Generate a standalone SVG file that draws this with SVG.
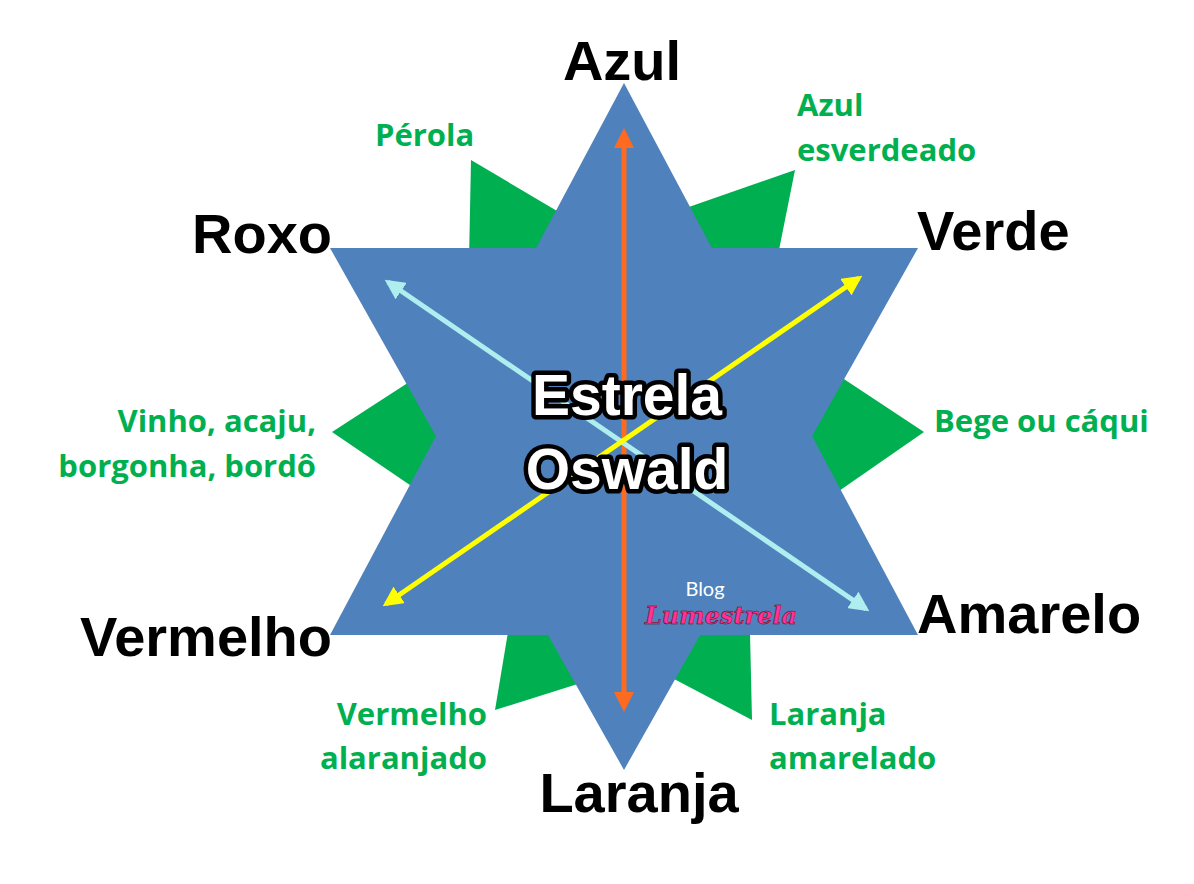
<svg xmlns="http://www.w3.org/2000/svg" width="1194" height="884" viewBox="0 0 1194 884">
<style>
.g{fill:#00b050}
.big{font-family:"Liberation Sans",Arial,sans-serif;font-weight:bold;font-size:56px;fill:#000}
.lbl{font-family:"Open Sans","Liberation Sans",sans-serif;font-weight:bold;font-size:31px;fill:#00b050}
.ttl{font-family:"Liberation Sans",Arial,sans-serif;font-weight:bold;font-size:57px;fill:#fff;stroke:#000;stroke-width:9;paint-order:stroke;stroke-linejoin:round}
</style>
<defs>
<marker id="mo" viewBox="0 0 10 10" refX="8" refY="5" markerWidth="4" markerHeight="4" orient="auto-start-reverse"><path d="M0,0L10,5L0,10z" fill="#ff6a21"/></marker>
<marker id="mc" viewBox="0 0 10 10" refX="8" refY="5" markerWidth="4" markerHeight="4" orient="auto-start-reverse"><path d="M0,0L10,5L0,10z" fill="#aeeeee"/></marker>
<marker id="my" viewBox="0 0 10 10" refX="8" refY="5" markerWidth="4" markerHeight="4" orient="auto-start-reverse"><path d="M0,0L10,5L0,10z" fill="#ffff00"/></marker>
</defs>
<rect width="1194" height="884" fill="#fff"/>
<g id="spikes">
<polygon class="g" points="471,160 640,260 469,260"/>
<polygon class="g" points="795,170 600,238 775,270"/>
<polygon class="g" points="332,432 474,340 476,530"/>
<polygon class="g" points="924,432 800,350 790,525"/>
<polygon class="g" points="495,710 515,590 660,658"/>
<polygon class="g" points="752,720 749,590 600,640"/>
</g>
<g id="star" fill="#4f81bd">
<polygon points="624,83 918,635 330,635"/>
<polygon points="624,770 330,248 918,248"/>
</g>
<g id="connectors" stroke-width="5" fill="none">
<line x1="624" y1="132" x2="624" y2="708" stroke="#ff6a21" marker-start="url(#mo)" marker-end="url(#mo)"/>
<line x1="388" y1="282" x2="866" y2="609" stroke="#aeeeee" marker-start="url(#mc)" marker-end="url(#mc)"/>
<line x1="859" y1="278" x2="386" y2="604" stroke="#ffff00" marker-start="url(#my)" marker-end="url(#my)"/>
</g>
<g id="title"><text class="ttl" x="627" y="415" text-anchor="middle">Estrela</text><text class="ttl" x="627" y="489" text-anchor="middle">Oswald</text></g>
<g id="main">
<text class="big" x="622" y="80" text-anchor="middle">Azul</text>
<text class="big" x="332" y="253" text-anchor="end">Roxo</text>
<text class="big" x="917" y="250">Verde</text>
<text class="big" x="332" y="656" text-anchor="end">Vermelho</text>
<text class="big" x="917" y="633">Amarelo</text>
<text class="big" x="639" y="812" text-anchor="middle">Laranja</text>
</g>
<g id="labels">
<text class="lbl" x="375" y="146">Pérola</text>
<text class="lbl" x="797" y="116">Azul</text>
<text class="lbl" x="797" y="161">esverdeado</text>
<text class="lbl" x="316" y="432" text-anchor="end">Vinho, acaju,</text>
<text class="lbl" x="316" y="477" text-anchor="end">borgonha, bordô</text>
<text class="lbl" x="934" y="432">Bege ou cáqui</text>
<text class="lbl" x="487" y="725" text-anchor="end">Vermelho</text>
<text class="lbl" x="487" y="769" text-anchor="end">alaranjado</text>
<text class="lbl" x="769" y="725">Laranja</text>
<text class="lbl" x="769" y="769">amarelado</text>
</g>
<g id="logo">
<text x="705" y="596" font-family="Lato,sans-serif" font-size="20" fill="#fff" text-anchor="middle">Blog</text>
<text x="721" y="624" font-family="'DejaVu Serif',serif" font-style="italic" font-weight="bold" font-size="24" fill="#ff3399" stroke="#600" stroke-width="0.5" text-anchor="middle">Lumestrela</text>
</g>
</svg>
